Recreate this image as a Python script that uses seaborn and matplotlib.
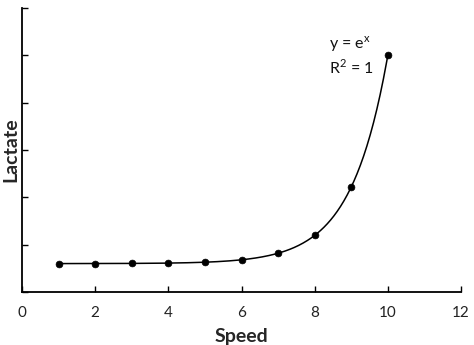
import numpy as np
import pandas as pd
import matplotlib
matplotlib.use("Agg")
import matplotlib.pyplot as plt
import seaborn as sns

speed = [1, 2, 3, 4, 5, 6, 7, 8, 9, 10]
lactate = [2.72, 7.39, 20.1, 54.6, 148.4, 403.4, 1096.6, 2981.0, 8103.1, 22026.5]
x_ticks = [0, 2, 4, 6, 8, 10, 12]
y_ticks = [-3000, 2000, 7000, 12000, 17000, 22000, 27000]

sns.set_theme(style="ticks")
plt.rcParams['font.family'] = ['Lato', 'DejaVu Sans']

df = pd.DataFrame({"Speed": speed, "Lactate": lactate})

# exponential trendline fitted to the data
b, a = np.polyfit(df["Speed"], np.log(df["Lactate"]), 1)
xs = np.linspace(min(speed), max(speed), 300)
trend = pd.DataFrame({"Speed": xs, "Lactate": np.exp(a + b * xs)})

fig = plt.figure(figsize=(4.74, 3.45), dpi=100)
ax = fig.add_axes([0.0464, 0.1536, 0.9262, 0.8232])

sns.lineplot(data=trend, x="Speed", y="Lactate", ax=ax, color="black", linewidth=1.1)
sns.scatterplot(data=df, x="Speed", y="Lactate", ax=ax, color="black", s=24, edgecolor="black", linewidth=0.5, zorder=3)

ax.set_xlim(0, 12)
ax.set_ylim(-3000, 27000)
ax.set_xticks(x_ticks)
ax.set_xticklabels([str(t) for t in x_ticks])
ax.set_yticks(y_ticks)
ax.set_yticklabels([])
ax.tick_params(axis="both", direction="in", length=4, width=1, color="black", labelsize=11, labelcolor="#222222")
ax.tick_params(axis="x", pad=10)
for s in ["top", "right"]:
    ax.spines[s].set_visible(False)
for s in ["left", "bottom"]:
    ax.spines[s].set_color("black")
    ax.spines[s].set_linewidth(1.3)

ax.set_xlabel("Speed", fontsize=14, fontweight="bold")
ax.set_ylabel("Lactate", fontsize=14, fontweight="bold")
ax.xaxis.set_label_coords(0.5, -0.125)
ax.yaxis.set_label_coords(-0.006, 0.5)

ax.text(8.4, 23190, "y = e$^{\\mathregular{x}}$", fontsize=11.5, va="center", ha="left", color="#111111")
ax.text(8.4, 20750, "R$^{\\mathregular{2}}$ = 1", fontsize=11.5, va="center", ha="left", color="#111111")

fig.savefig("out.png", dpi=100, facecolor="white")
